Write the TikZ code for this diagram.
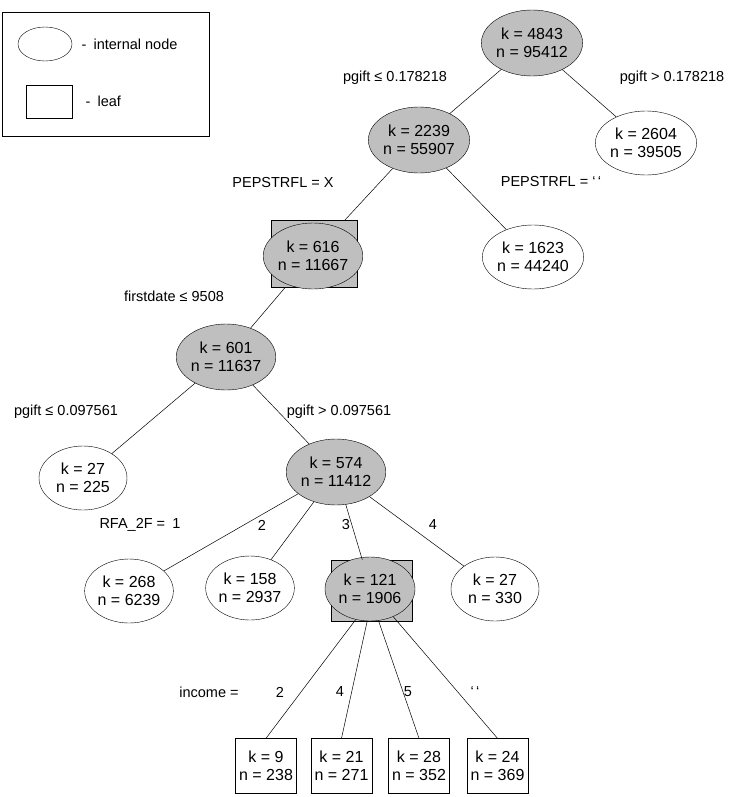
\documentclass[tikz,border=0pt]{standalone}
\usepackage{fontspec}
\setmainfont{Liberation Sans}
\usetikzlibrary{shapes.geometric}
\begin{document}
\begin{tikzpicture}[x=1pt,y=-1pt,
  every node/.style={font=\fontsize{14.5}{17}\selectfont},
  nt/.style={font=\fontsize{16}{18}\selectfont},
  int/.style={nt,ellipse,draw,fill=gray!50,minimum width=88pt,minimum height=66pt,inner sep=0pt,align=center},
  lf/.style={nt,ellipse,draw,fill=white,minimum width=88pt,minimum height=64pt,inner sep=0pt,align=center},
  box/.style={nt,rectangle,draw,fill=white,minimum width=61pt,minimum height=55pt,inner sep=0pt,align=center},
  sq/.style={rectangle,draw,fill=gray!50,minimum width=86pt,minimum height=67pt},
  lab/.style={inner sep=1pt},
  e/.style={draw,line width=0.5pt}]
\useasboundingbox (0,0) rectangle (734,797);
% legend
\node[draw,minimum width=207pt,minimum height=124pt] (leg) at (105.5,74) {};
\node[ellipse,draw,minimum width=54pt,minimum height=34pt] (le) at (45,44) {};
\node[anchor=west] (lt1) at (78,44) {-\enspace internal node};
\node[draw,minimum width=46pt,minimum height=33pt] (ls) at (49,102) {};
\node[anchor=west] (lt2) at (82,101) {-\enspace leaf};
% squares behind
\node[sq] (s1) at (314,253.5) {};
\node[sq,minimum width=81pt,minimum height=61pt] (s2) at (371.5,590.5) {};
% nodes
\node[int] (r) at (532,43) {k = 4843\\n = 95412};
\node[int] (a) at (419,140) {k = 2239\\n = 55907};
\node[lf] (b) at (646,143) {k = 2604\\n = 39505};
\node[int,minimum width=92pt] (c) at (313,256) {k = 616\\n = 11667};
\node[lf] (d) at (533,257) {k = 1623\\n = 44240};
\node[int] (f) at (226,357) {k = 601\\n = 11637};
\node[lf] (g) at (83,478) {k = 27\\n = 225};
\node[int] (h) at (336,472) {k = 574\\n = 11412};
\node[lf] (i1) at (129,591) {k = 268\\n = 6239};
\node[lf] (i2) at (250,588) {k = 158\\n = 2937};
\node[int,minimum width=90pt,minimum height=64pt] (i3) at (370,589) {k = 121\\n = 1906};
\node[lf] (i4) at (495,589) {k = 27\\n = 330};
\node[box] (j1) at (266,766) {k = 9\\n = 238};
\node[box] (j2) at (341.5,766) {k = 21\\n = 271};
\node[box] (j3) at (419,766) {k = 28\\n = 352};
\node[box] (j4) at (497.5,766) {k = 24\\n = 369};
% edges
\draw[e] (r) -- (a); \draw[e] (r) -- (b);
\draw[e] (a) -- (s1); \draw[e] (a) -- (d);
\draw[e] (s1) -- (f);
\draw[e] (f) -- (g); \draw[e] (f) -- (h);
\draw[e] (h) -- (i1); \draw[e] (h) -- (i2); \draw[e] (h) -- (s2); \draw[e] (h) -- (i4);
\draw[e] (i3.-115) -- (j1.north); \draw[e] (i3.-95) -- (j2.north);
\draw[e] (i3.-75) -- (j3.north); \draw[e] (i3.-50) -- (j4.north);
% labels
\node[lab] (l1) at (395,78) {pgift ≤ 0.178218};
\node[lab] (l2) at (672,78) {pgift > 0.178218};
\node[lab] (l3) at (283,183) {PEPSTRFL = X};
\node[lab] (l4) at (551,182) {PEPSTRFL = \textquoteleft\,\textquoteleft};
\node[lab] (l5) at (174,296) {firstdate ≤ 9508};
\node[lab] (l6) at (66,412) {pgift ≤ 0.097561};
\node[lab] (l7) at (339,412) {pgift > 0.097561};
\node[lab] (l8) at (140,525) {RFA\_2F =\enspace 1};
\node[lab] (l9) at (262,525) {2};
\node[lab] (l10) at (346,525) {3};
\node[lab] (l11) at (433,525) {4};
\node[lab] (l12) at (209,692) {income =};
\node[lab] (l13) at (280,692) {2};
\node[lab] (l14) at (340,692) {4};
\node[lab] (l15) at (408,692) {5};
\node[lab] (l16) at (475,692) {\textquoteleft\,\textquoteleft};
\end{tikzpicture}
\end{document}
